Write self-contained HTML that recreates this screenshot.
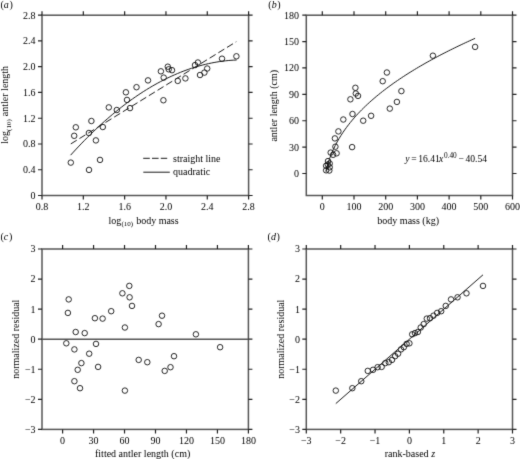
<!DOCTYPE html>
<html><head><meta charset="utf-8"><title>figure</title>
<style>
html,body{margin:0;padding:0;background:#fff;}
svg{display:block;}
.t text{font-family:"Liberation Serif", "Times New Roman", serif;font-size:10px;fill:#000;stroke:#000;stroke-width:0.0px;}
</style></head>
<body>
<svg width="520" height="459" viewBox="0 0 520 459">
<defs><filter id="bl" filterUnits="userSpaceOnUse" x="0" y="0" width="520" height="459" color-interpolation-filters="sRGB"><feConvolveMatrix order="3" kernelMatrix="0.01134 0.08382 0.01134 0.08382 0.61935 0.08382 0.01134 0.08382 0.01134" edgeMode="duplicate"/></filter></defs>
<g filter="url(#bl)">
<rect width="520" height="459" fill="#fff"/>
<rect x="42" y="15.2" width="206.60" height="180.30" fill="none" stroke="#555" stroke-width="1.5"/>
<path d="M42.00 195.5v4.0M42.00 15.2v-4.0M83.32 195.5v4.0M83.32 15.2v-4.0M124.64 195.5v4.0M124.64 15.2v-4.0M165.96 195.5v4.0M165.96 15.2v-4.0M207.28 195.5v4.0M207.28 15.2v-4.0M248.60 195.5v4.0M248.60 15.2v-4.0M42 195.50h-4.0M248.6 195.50h4.0M42 169.74h-4.0M248.6 169.74h4.0M42 143.99h-4.0M248.6 143.99h4.0M42 118.23h-4.0M248.6 118.23h4.0M42 92.47h-4.0M248.6 92.47h4.0M42 66.71h-4.0M248.6 66.71h4.0M42 40.96h-4.0M248.6 40.96h4.0M42 15.20h-4.0M248.6 15.20h4.0" stroke="#222" stroke-width="1.2" fill="none"/>
<path d="M70.60 155.17 L73.41 152.08 L76.23 149.04 L79.04 146.05 L81.85 143.11 L84.67 140.22 L87.48 137.39 L90.29 134.60 L93.11 131.87 L95.92 129.19 L98.74 126.55 L101.55 123.97 L104.36 121.44 L107.18 118.96 L109.99 116.54 L112.80 114.16 L115.62 111.83 L118.43 109.56 L121.24 107.33 L124.06 105.16 L126.87 103.04 L129.68 100.96 L132.50 98.94 L135.31 96.97 L138.13 95.05 L140.94 93.19 L143.75 91.37 L146.57 89.60 L149.38 87.89 L152.19 86.22 L155.01 84.61 L157.82 83.05 L160.63 81.54 L163.45 80.08 L166.26 78.67 L169.07 77.31 L171.89 76.00 L174.70 74.75 L177.52 73.54 L180.33 72.39 L183.14 71.28 L185.96 70.23 L188.77 69.23 L191.58 68.28 L194.40 67.38 L197.21 66.53 L200.02 65.73 L202.84 64.98 L205.65 64.29 L208.46 63.64 L211.28 63.05 L214.09 62.50 L216.91 62.01 L219.72 61.57 L222.53 61.18 L225.35 60.84 L228.16 60.55 L230.97 60.31 L233.79 60.13 L236.60 59.99" fill="none" stroke="#1a1a1a" stroke-width="1.0"/>
<path d="M70.8 143.9 L236.3 41.7" fill="none" stroke="#1a1a1a" stroke-width="1.0" stroke-dasharray="7 3.2"/>
<g fill="none" stroke="#111" stroke-width="0.9">
<circle cx="70.80" cy="162.60" r="2.75"/>
<circle cx="89.00" cy="169.90" r="2.75"/>
<circle cx="100.00" cy="159.90" r="2.75"/>
<circle cx="74.20" cy="135.80" r="2.75"/>
<circle cx="75.80" cy="127.30" r="2.75"/>
<circle cx="88.90" cy="133.00" r="2.75"/>
<circle cx="91.40" cy="121.00" r="2.75"/>
<circle cx="95.90" cy="140.40" r="2.75"/>
<circle cx="102.80" cy="127.00" r="2.75"/>
<circle cx="108.80" cy="107.40" r="2.75"/>
<circle cx="116.80" cy="110.00" r="2.75"/>
<circle cx="127.00" cy="99.90" r="2.75"/>
<circle cx="125.90" cy="92.30" r="2.75"/>
<circle cx="130.00" cy="108.10" r="2.75"/>
<circle cx="136.50" cy="87.20" r="2.75"/>
<circle cx="148.00" cy="80.40" r="2.75"/>
<circle cx="160.90" cy="71.30" r="2.75"/>
<circle cx="163.70" cy="77.60" r="2.75"/>
<circle cx="163.40" cy="100.25" r="2.75"/>
<circle cx="167.80" cy="66.70" r="2.75"/>
<circle cx="168.70" cy="69.30" r="2.75"/>
<circle cx="172.00" cy="70.20" r="2.75"/>
<circle cx="177.75" cy="80.90" r="2.75"/>
<circle cx="185.40" cy="78.40" r="2.75"/>
<circle cx="195.00" cy="65.10" r="2.75"/>
<circle cx="197.90" cy="62.50" r="2.75"/>
<circle cx="200.00" cy="75.00" r="2.75"/>
<circle cx="204.40" cy="72.60" r="2.75"/>
<circle cx="207.20" cy="68.50" r="2.75"/>
<circle cx="222.00" cy="58.70" r="2.75"/>
<circle cx="236.40" cy="56.30" r="2.75"/>
</g>
<path d="M143.2 158.3h24" stroke="#1a1a1a" stroke-width="1.0" stroke-dasharray="6.6 2.2"/>
<path d="M143.3 172.2h26.5" stroke="#1a1a1a" stroke-width="1.0"/>
<g class="t">
<text x="173" y="161.5">straight line</text>
<text x="173" y="175.4">quadratic</text>
<text x="42.00" y="210.10" text-anchor="middle">0.8</text>
<text x="83.32" y="210.10" text-anchor="middle">1.2</text>
<text x="124.64" y="210.10" text-anchor="middle">1.6</text>
<text x="165.96" y="210.10" text-anchor="middle">2.0</text>
<text x="207.28" y="210.10" text-anchor="middle">2.4</text>
<text x="248.60" y="210.10" text-anchor="middle">2.8</text>
<text x="35.60" y="198.90" text-anchor="end">0</text>
<text x="35.60" y="173.14" text-anchor="end">0.4</text>
<text x="35.60" y="147.39" text-anchor="end">0.8</text>
<text x="35.60" y="121.63" text-anchor="end">1.2</text>
<text x="35.60" y="95.87" text-anchor="end">1.6</text>
<text x="35.60" y="70.11" text-anchor="end">2.0</text>
<text x="35.60" y="44.36" text-anchor="end">2.4</text>
<text x="35.60" y="18.60" text-anchor="end">2.8</text>
<text x="108.6" y="223.5">log<tspan font-size="7" dy="2.6">(10)</tspan><tspan dy="-2.6" dx="0.6"> body mass</tspan></text>
<text transform="translate(8.3 143.7) rotate(-90)">log<tspan font-size="7" dy="2.4">(10)</tspan><tspan dy="-2.4" dx="0.6"> antler length</tspan></text>
<text x="0.5" y="7.9">(<tspan font-style="italic">a</tspan><tspan dx="0.6">)</tspan></text>
</g>
<rect x="306.3" y="15.2" width="206.20" height="180.30" fill="none" stroke="#555" stroke-width="1.5"/>
<path d="M322.30 195.5v4.0M322.30 15.2v-4.0M354.00 195.5v4.0M354.00 15.2v-4.0M385.70 195.5v4.0M385.70 15.2v-4.0M417.40 195.5v4.0M417.40 15.2v-4.0M449.10 195.5v4.0M449.10 15.2v-4.0M480.80 195.5v4.0M480.80 15.2v-4.0M512.50 195.5v4.0M512.50 15.2v-4.0M306.3 173.50h-4.0M512.5 173.50h4.0M306.3 147.12h-4.0M512.5 147.12h4.0M306.3 120.73h-4.0M512.5 120.73h4.0M306.3 94.35h-4.0M512.5 94.35h4.0M306.3 67.97h-4.0M512.5 67.97h4.0M306.3 41.58h-4.0M512.5 41.58h4.0M306.3 15.20h-4.0M512.5 15.20h4.0" stroke="#222" stroke-width="1.2" fill="none"/>
<path d="M325.79 171.49 L327.68 164.37 L329.57 158.64 L331.46 153.74 L333.35 149.42 L335.24 145.53 L337.13 141.96 L339.02 138.66 L340.91 135.57 L342.80 132.67 L344.69 129.92 L346.58 127.31 L348.47 124.82 L350.36 122.44 L352.25 120.14 L354.14 117.94 L356.03 115.81 L357.92 113.75 L359.81 111.76 L361.70 109.82 L363.59 107.94 L365.48 106.12 L367.37 104.34 L369.26 102.60 L371.15 100.90 L373.04 99.25 L374.93 97.63 L376.82 96.04 L378.71 94.49 L380.60 92.97 L382.49 91.48 L384.38 90.01 L386.27 88.57 L388.16 87.16 L390.05 85.77 L391.94 84.41 L393.83 83.06 L395.72 81.74 L397.61 80.44 L399.50 79.16 L401.39 77.89 L403.28 76.65 L405.17 75.42 L407.06 74.21 L408.95 73.01 L410.84 71.83 L412.73 70.67 L414.62 69.52 L416.51 68.38 L418.40 67.26 L420.29 66.15 L422.18 65.05 L424.07 63.96 L425.95 62.89 L427.84 61.83 L429.73 60.78 L431.62 59.74 L433.51 58.71 L435.40 57.70 L437.29 56.69 L439.18 55.69 L441.07 54.70 L442.96 53.73 L444.85 52.76 L446.74 51.80 L448.63 50.84 L450.52 49.90 L452.41 48.97 L454.30 48.04 L456.19 47.12 L458.08 46.21 L459.97 45.31 L461.86 44.41 L463.75 43.52 L465.64 42.64 L467.53 41.77 L469.42 40.90 L471.31 40.04 L473.20 39.18 L475.09 38.33" fill="none" stroke="#1a1a1a" stroke-width="1.0"/>
<g fill="none" stroke="#111" stroke-width="0.9">
<circle cx="386.90" cy="72.50" r="2.75"/>
<circle cx="382.70" cy="81.20" r="2.75"/>
<circle cx="355.40" cy="87.80" r="2.75"/>
<circle cx="355.80" cy="93.50" r="2.75"/>
<circle cx="358.00" cy="95.90" r="2.75"/>
<circle cx="350.40" cy="99.30" r="2.75"/>
<circle cx="352.50" cy="114.00" r="2.75"/>
<circle cx="343.30" cy="119.50" r="2.75"/>
<circle cx="338.40" cy="131.40" r="2.75"/>
<circle cx="334.90" cy="138.40" r="2.75"/>
<circle cx="335.40" cy="146.70" r="2.75"/>
<circle cx="330.70" cy="152.60" r="2.75"/>
<circle cx="333.10" cy="154.80" r="2.75"/>
<circle cx="336.60" cy="153.30" r="2.75"/>
<circle cx="352.10" cy="147.10" r="2.75"/>
<circle cx="363.20" cy="120.70" r="2.75"/>
<circle cx="371.10" cy="115.80" r="2.75"/>
<circle cx="389.80" cy="108.60" r="2.75"/>
<circle cx="396.90" cy="101.90" r="2.75"/>
<circle cx="401.40" cy="91.10" r="2.75"/>
<circle cx="432.90" cy="55.70" r="2.75"/>
<circle cx="475.10" cy="46.90" r="2.75"/>
<circle cx="328.00" cy="161.10" r="2.75"/>
<circle cx="329.70" cy="163.50" r="2.75"/>
<circle cx="326.10" cy="165.80" r="2.75"/>
<circle cx="329.70" cy="167.30" r="2.75"/>
<circle cx="326.10" cy="170.30" r="2.75"/>
<circle cx="329.30" cy="170.50" r="2.75"/>
<circle cx="327.80" cy="164.50" r="2.75"/>
</g>
<g class="t">
<text x="322.30" y="210.10" text-anchor="middle">0</text>
<text x="354.00" y="210.10" text-anchor="middle">100</text>
<text x="385.70" y="210.10" text-anchor="middle">200</text>
<text x="417.40" y="210.10" text-anchor="middle">300</text>
<text x="449.10" y="210.10" text-anchor="middle">400</text>
<text x="480.80" y="210.10" text-anchor="middle">500</text>
<text x="512.50" y="210.10" text-anchor="middle">600</text>
<text x="299.10" y="176.90" text-anchor="end">0</text>
<text x="299.10" y="150.52" text-anchor="end">30</text>
<text x="299.10" y="124.13" text-anchor="end">60</text>
<text x="299.10" y="97.75" text-anchor="end">90</text>
<text x="299.10" y="71.37" text-anchor="end">120</text>
<text x="299.10" y="44.98" text-anchor="end">150</text>
<text x="299.10" y="18.60" text-anchor="end">180</text>
<text x="408.2" y="223.7" text-anchor="middle">body mass (kg)</text>
<text transform="translate(277.4 105.8) rotate(-90)" text-anchor="middle">antler length (cm)</text>
<text x="268.3" y="7.9">(<tspan font-style="italic">b</tspan><tspan dx="0.6">)</tspan></text>
<g style="font-size:9.6px">
<text x="405.2" y="161.8" font-style="italic" style="font-size:9.6px">y</text>
<text x="411.2" y="161.8" style="font-size:9.6px">=</text>
<text x="418.2" y="161.8" style="font-size:9.6px">16.41</text>
<text x="438.9" y="161.8" font-style="italic" style="font-size:9.6px">x</text>
<text x="444" y="158.4" style="font-size:7.3px">0.40</text>
<text x="458.5" y="161.8" style="font-size:9.6px">−</text>
<text x="465.5" y="161.8" style="font-size:9.6px">40.54</text>
</g>
</g>
<rect x="42" y="249.0" width="206.40" height="180.40" fill="none" stroke="#555" stroke-width="1.5"/>
<path d="M62.60 429.4v4.0M62.60 249.0v-4.0M93.57 429.4v4.0M93.57 249.0v-4.0M124.53 429.4v4.0M124.53 249.0v-4.0M155.50 429.4v4.0M155.50 249.0v-4.0M186.46 429.4v4.0M186.46 249.0v-4.0M217.43 429.4v4.0M217.43 249.0v-4.0M248.40 429.4v4.0M248.40 249.0v-4.0M42 429.40h-4.0M248.4 429.40h4.0M42 399.33h-4.0M248.4 399.33h4.0M42 369.27h-4.0M248.4 369.27h4.0M42 339.20h-4.0M248.4 339.20h4.0M42 309.13h-4.0M248.4 309.13h4.0M42 279.07h-4.0M248.4 279.07h4.0M42 249.00h-4.0M248.4 249.00h4.0" stroke="#222" stroke-width="1.2" fill="none"/>
<path d="M42 339.2H248.4" stroke="#555" stroke-width="1.5"/>
<g fill="none" stroke="#111" stroke-width="0.9">
<circle cx="68.70" cy="299.40" r="2.75"/>
<circle cx="67.90" cy="312.90" r="2.75"/>
<circle cx="75.70" cy="332.00" r="2.75"/>
<circle cx="84.70" cy="333.10" r="2.75"/>
<circle cx="94.90" cy="318.20" r="2.75"/>
<circle cx="102.60" cy="318.60" r="2.75"/>
<circle cx="111.20" cy="311.20" r="2.75"/>
<circle cx="122.40" cy="293.30" r="2.75"/>
<circle cx="129.30" cy="285.90" r="2.75"/>
<circle cx="129.60" cy="297.30" r="2.75"/>
<circle cx="132.00" cy="305.90" r="2.75"/>
<circle cx="124.90" cy="327.50" r="2.75"/>
<circle cx="66.30" cy="343.30" r="2.75"/>
<circle cx="74.40" cy="349.40" r="2.75"/>
<circle cx="96.00" cy="343.90" r="2.75"/>
<circle cx="89.20" cy="353.70" r="2.75"/>
<circle cx="81.40" cy="363.10" r="2.75"/>
<circle cx="77.70" cy="369.80" r="2.75"/>
<circle cx="98.10" cy="366.90" r="2.75"/>
<circle cx="74.40" cy="381.20" r="2.75"/>
<circle cx="80.00" cy="388.20" r="2.75"/>
<circle cx="124.90" cy="390.60" r="2.75"/>
<circle cx="138.70" cy="359.90" r="2.75"/>
<circle cx="162.00" cy="315.70" r="2.75"/>
<circle cx="158.60" cy="324.10" r="2.75"/>
<circle cx="195.90" cy="334.30" r="2.75"/>
<circle cx="220.10" cy="347.20" r="2.75"/>
<circle cx="147.30" cy="362.20" r="2.75"/>
<circle cx="174.00" cy="356.20" r="2.75"/>
<circle cx="170.50" cy="367.20" r="2.75"/>
<circle cx="164.70" cy="370.90" r="2.75"/>
</g>
<g class="t">
<text x="62.60" y="443.70" text-anchor="middle">0</text>
<text x="93.57" y="443.70" text-anchor="middle">30</text>
<text x="124.53" y="443.70" text-anchor="middle">60</text>
<text x="155.50" y="443.70" text-anchor="middle">90</text>
<text x="186.46" y="443.70" text-anchor="middle">120</text>
<text x="217.43" y="443.70" text-anchor="middle">150</text>
<text x="248.40" y="443.70" text-anchor="middle">180</text>
<text x="35.60" y="432.80" text-anchor="end">−3</text>
<text x="35.60" y="402.73" text-anchor="end">−2</text>
<text x="35.60" y="372.67" text-anchor="end">−1</text>
<text x="35.60" y="342.60" text-anchor="end">0</text>
<text x="35.60" y="312.53" text-anchor="end">1</text>
<text x="35.60" y="282.47" text-anchor="end">2</text>
<text x="35.60" y="252.40" text-anchor="end">3</text>
<text x="95" y="456.6">fitted antler length (cm)</text>
<text transform="translate(19.05 339.2) rotate(-90)" text-anchor="middle">normalized residual</text>
<text x="0.5" y="239.8">(<tspan font-style="italic">c</tspan><tspan dx="0.6">)</tspan></text>
</g>
<rect x="306.3" y="249.0" width="206.20" height="180.40" fill="none" stroke="#555" stroke-width="1.5"/>
<path d="M306.30 429.4v4.0M306.30 249.0v-4.0M340.67 429.4v4.0M340.67 249.0v-4.0M375.03 429.4v4.0M375.03 249.0v-4.0M409.40 429.4v4.0M409.40 249.0v-4.0M443.77 429.4v4.0M443.77 249.0v-4.0M478.13 429.4v4.0M478.13 249.0v-4.0M512.50 429.4v4.0M512.50 249.0v-4.0M306.3 429.40h-4.0M512.5 429.40h4.0M306.3 399.33h-4.0M512.5 399.33h4.0M306.3 369.27h-4.0M512.5 369.27h4.0M306.3 339.20h-4.0M512.5 339.20h4.0M306.3 309.13h-4.0M512.5 309.13h4.0M306.3 279.07h-4.0M512.5 279.07h4.0M306.3 249.00h-4.0M512.5 249.00h4.0" stroke="#222" stroke-width="1.2" fill="none"/>
<path d="M335.81 403.58 L482.99 274.82" stroke="#1a1a1a" stroke-width="1.0"/>
<g fill="none" stroke="#111" stroke-width="0.9">
<circle cx="335.81" cy="390.60" r="2.75"/>
<circle cx="352.33" cy="388.20" r="2.75"/>
<circle cx="361.26" cy="381.20" r="2.75"/>
<circle cx="367.77" cy="370.90" r="2.75"/>
<circle cx="373.06" cy="369.80" r="2.75"/>
<circle cx="377.60" cy="367.20" r="2.75"/>
<circle cx="381.65" cy="366.90" r="2.75"/>
<circle cx="385.34" cy="363.10" r="2.75"/>
<circle cx="388.77" cy="362.20" r="2.75"/>
<circle cx="392.01" cy="359.90" r="2.75"/>
<circle cx="395.10" cy="356.20" r="2.75"/>
<circle cx="398.08" cy="353.70" r="2.75"/>
<circle cx="400.98" cy="349.40" r="2.75"/>
<circle cx="403.82" cy="347.20" r="2.75"/>
<circle cx="406.62" cy="343.90" r="2.75"/>
<circle cx="409.40" cy="343.30" r="2.75"/>
<circle cx="412.18" cy="334.30" r="2.75"/>
<circle cx="414.98" cy="333.10" r="2.75"/>
<circle cx="417.82" cy="332.00" r="2.75"/>
<circle cx="420.72" cy="327.50" r="2.75"/>
<circle cx="423.70" cy="324.10" r="2.75"/>
<circle cx="426.79" cy="318.60" r="2.75"/>
<circle cx="430.03" cy="318.20" r="2.75"/>
<circle cx="433.46" cy="315.70" r="2.75"/>
<circle cx="437.15" cy="312.90" r="2.75"/>
<circle cx="441.20" cy="311.20" r="2.75"/>
<circle cx="445.74" cy="305.90" r="2.75"/>
<circle cx="451.03" cy="299.40" r="2.75"/>
<circle cx="457.54" cy="297.30" r="2.75"/>
<circle cx="466.47" cy="293.30" r="2.75"/>
<circle cx="482.99" cy="285.90" r="2.75"/>
</g>
<g class="t">
<text x="306.30" y="443.70" text-anchor="middle">−3</text>
<text x="340.67" y="443.70" text-anchor="middle">−2</text>
<text x="375.03" y="443.70" text-anchor="middle">−1</text>
<text x="409.40" y="443.70" text-anchor="middle">0</text>
<text x="443.77" y="443.70" text-anchor="middle">1</text>
<text x="478.13" y="443.70" text-anchor="middle">2</text>
<text x="512.50" y="443.70" text-anchor="middle">3</text>
<text x="299.90" y="432.80" text-anchor="end">−3</text>
<text x="299.90" y="402.73" text-anchor="end">−2</text>
<text x="299.90" y="372.67" text-anchor="end">−1</text>
<text x="299.90" y="342.60" text-anchor="end">0</text>
<text x="299.90" y="312.53" text-anchor="end">1</text>
<text x="299.90" y="282.47" text-anchor="end">2</text>
<text x="299.90" y="252.40" text-anchor="end">3</text>
<text x="409.9" y="456.9" text-anchor="middle">rank-based <tspan font-style="italic">z</tspan></text>
<text transform="translate(284 339.2) rotate(-90)" text-anchor="middle">normalized residual</text>
<text x="267.6" y="239.8">(<tspan font-style="italic">d</tspan><tspan dx="0.6">)</tspan></text>
</g>
</g>
</svg>
</body></html>
